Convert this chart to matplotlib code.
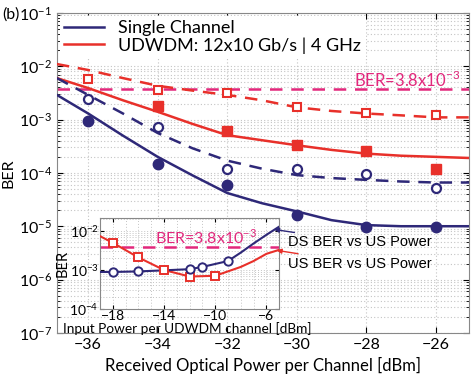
import numpy as np
import matplotlib.pyplot as plt
from matplotlib.ticker import LogLocator, NullFormatter, FixedLocator

plt.rcParams['font.family'] = ['Lato', 'DejaVu Sans']
plt.rcParams['mathtext.fontset'] = 'custom'
plt.rcParams['mathtext.rm'] = 'Lato'

navy = '#2e2878'
red = '#e8302a'
magenta = '#e2287c'
grid_col = '#c4c4c4'

# main plot: measured points
x_pts = [-36, -34, -32, -30, -28, -26]
single_solid_pts = [9.3e-4, 1.5e-4, 5.9e-5, 1.6e-5, 9.8e-6, 9.8e-6]
single_dashed_pts = [2.4e-3, 7.3e-4, 1.2e-4, 1.2e-4, 9.5e-5, 5.2e-5]
udwdm_solid_x = [-34, -32, -30, -28, -26]
udwdm_solid_pts = [1.8e-3, 6.1e-4, 3.3e-4, 2.6e-4, 1.2e-4]
udwdm_dashed_pts = [5.8e-3, 3.6e-3, 3.2e-3, 1.7e-3, 1.3e-3, 1.2e-3]

# main plot: fitted curves
fit_x = [-36.9, -36, -35, -34, -33, -32, -31, -30, -29, -28, -27, -26, -25]
single_solid_fit = [2.9e-3, 1.3e-3, 5.0e-4, 2.0e-4, 9.0e-5, 4.2e-5, 2.7e-5, 1.9e-5,
                    1.3e-5, 1.05e-5, 1.0e-5, 1.0e-5, 1.0e-5]
single_dashed_fit = [6.0e-3, 2.9e-3, 1.3e-3, 5.6e-4, 2.9e-4, 1.7e-4, 1.2e-4, 9.1e-5,
                     8.0e-5, 7.4e-5, 6.9e-5, 6.6e-5, 6.6e-5]
udwdm_solid_fit = [6.0e-3, 3.9e-3, 2.3e-3, 1.4e-3, 8.3e-4, 5.1e-4, 4.1e-4, 3.3e-4,
                   2.7e-4, 2.3e-4, 2.1e-4, 2.0e-4, 1.9e-4]
udwdm_dashed_fit = [1.1e-2, 8.5e-3, 6.0e-3, 4.3e-3, 3.5e-3, 2.9e-3, 2.3e-3, 1.7e-3,
                    1.45e-3, 1.3e-3, 1.2e-3, 1.1e-3, 1.1e-3]
fec_limit = 3.8e-3

# inset
ds_x = [-18, -16, -12, -11, -9]
ds_ber = [8.9e-4, 9.2e-4, 1.05e-3, 1.2e-3, 1.7e-3]
ds_line_x = [-19, -18, -16, -14, -12, -11, -9, -8, -7, -6, -5]
ds_line = [8.9e-4, 8.9e-4, 9.2e-4, 9.8e-4, 1.05e-3, 1.2e-3, 1.7e-3, 2.8e-3, 4.8e-3, 8.0e-3, 1.3e-2]
us_x = [-18, -16, -14, -12, -10]
us_ber = [5.0e-3, 2.1e-3, 1.0e-3, 6.8e-4, 7.1e-4]
us_line_x = [-19, -18, -16, -14, -12, -10, -8, -7, -6, -5]
us_line = [7.4e-3, 5.0e-3, 2.1e-3, 1.0e-3, 6.8e-4, 7.1e-4, 1.2e-3, 1.7e-3, 2.6e-3, 3.3e-3]

fig = plt.figure(figsize=(4.74, 3.80), dpi=100)
ax = fig.add_axes([0.120, 0.124, 0.869, 0.842])

dash = (0, (5, 3.5))
ax.axhline(fec_limit, color=magenta, lw=1.8, ls=dash, zorder=2)
ax.plot(fit_x, udwdm_dashed_fit, color=red, lw=1.8, ls=dash, zorder=3)
ax.plot(fit_x, udwdm_solid_fit, color=red, lw=1.8, zorder=3)
ax.plot(fit_x, single_dashed_fit, color=navy, lw=1.8, ls=dash, zorder=3)
ax.plot(fit_x, single_solid_fit, color=navy, lw=1.8, zorder=3)
ax.plot(x_pts, udwdm_dashed_pts, 's', mfc='white', mec=red, mew=1.5, ms=6, zorder=4)
ax.plot(udwdm_solid_x, udwdm_solid_pts, 's', color=red, ms=6.5, zorder=4)
ax.plot(x_pts, single_dashed_pts, 'o', mfc='white', mec=navy, mew=1.6, ms=6.5, zorder=4)
ax.plot(x_pts, single_solid_pts, 'o', color=navy, ms=7.5, zorder=4)

ax.set_yscale('log')
ax.set_xlim(-36.9, -25.05)
ax.set_ylim(1e-7, 1e-1)
ax.set_xticks([-36, -34, -32, -30, -28, -26])
ax.yaxis.set_major_locator(LogLocator(base=10, numticks=10))
ax.yaxis.set_minor_locator(LogLocator(base=10, subs=np.arange(2, 10), numticks=10))
ax.yaxis.set_minor_formatter(NullFormatter())
ax.tick_params(which='both', direction='in', top=True, right=True, labelsize=11.5)
ax.tick_params(which='major', length=4)
ax.tick_params(which='minor', length=2)
ax.grid(True, which='major', axis='both', color=grid_col, ls=(0, (1, 2)), lw=0.8)
ax.grid(True, which='minor', axis='y', color=grid_col, ls=(0, (1, 2)), lw=0.8)
ax.set_axisbelow(True)
for s in ax.spines.values():
    s.set_color('#888888')
ax.set_xlabel('Received Optical Power per Channel [dBm]', fontsize=12, labelpad=4)
ax.set_ylabel('BER', fontsize=11.5, labelpad=2)

h1, = ax.plot([], [], color=navy, lw=1.8, label='Single Channel')
h2, = ax.plot([], [], color=red, lw=1.8, label='UDWDM: 12x10 Gb/s | 4 GHz')
leg = ax.legend(handles=[h1, h2], loc='upper left', fontsize=13, frameon=True,
                fancybox=False, framealpha=1, edgecolor='none', facecolor='white',
                handlelength=2.2, borderaxespad=0.15, labelspacing=0.05, borderpad=0.25)
leg.set_zorder(5)

ax.text(-25.3, 5.6e-3, r'BER=3.8x10$^{-3}$', color=magenta, fontsize=12,
        ha='right', va='center', zorder=5)

fig.text(0.005, 0.963, '(b)', fontsize=11.5, va='center', ha='left')

# inset
ins = fig.add_axes([0.211, 0.187, 0.378, 0.239])
ins.axhline(fec_limit, color=magenta, lw=1.8, ls=dash, zorder=2)
ins.plot(us_line_x, us_line, color=red, lw=1.5, zorder=3)
ins.plot(us_x, us_ber, 's', mfc='white', mec=red, mew=1.4, ms=6, zorder=4)
ins.plot(ds_line_x, ds_line, color=navy, lw=1.5, zorder=3)
ins.plot(ds_x, ds_ber, 'o', mfc='white', mec=navy, mew=1.4, ms=6, zorder=4)
ins.set_yscale('log')
ins.set_xlim(-19, -5)
ins.set_ylim(1e-4, 2.15e-2)
ins.set_xticks([-18, -14, -10, -6])
ins.xaxis.set_minor_locator(FixedLocator(np.arange(-19, -4, 1)))
ins.set_yticks([1e-4, 1e-3, 1e-2])
ins.yaxis.set_minor_locator(LogLocator(base=10, subs=np.arange(2, 10), numticks=10))
ins.yaxis.set_minor_formatter(NullFormatter())
ins.tick_params(which='both', direction='in', top=True, right=True, labelsize=10, pad=1)
ins.tick_params(which='major', length=3)
ins.tick_params(which='minor', length=0)
ins.grid(True, which='both', color=grid_col, ls=(0, (1, 2)), lw=0.7)
ins.set_axisbelow(True)
for s in ins.spines.values():
    s.set_color('#888888')
ins.set_ylabel('BER', fontsize=10.5, labelpad=0)
fig.text(187 / 474, 1 - 329 / 380, 'Input Power per UDWDM channel [dBm]', fontsize=9.8,
         ha='center', va='center')
ins.text(-14.7, 6.8e-3, r'BER=3.8x10$^{-3}$', color=magenta, fontsize=11.5,
         ha='left', va='center', zorder=5)

ins.annotate('DS BER vs US Power', xy=(-5.4, 1.1e-2), xytext=(-30.25, 5.0e-6),
             textcoords=ax.transData, fontsize=10.5, family='Liberation Sans',
             va='center', ha='left', annotation_clip=False,
             arrowprops=dict(arrowstyle='-|>', color=navy, lw=1.0, mutation_scale=7,
                             shrinkA=0, shrinkB=0))
ins.annotate('US BER vs US Power', xy=(-5.2, 3.2e-3), xytext=(-30.25, 2.0e-6),
             textcoords=ax.transData, fontsize=10.5, family='Liberation Sans',
             va='center', ha='left', annotation_clip=False,
             arrowprops=dict(arrowstyle='-|>', color=red, lw=1.0, mutation_scale=7,
                             shrinkA=0, shrinkB=0))

fig.savefig('out.png', dpi=100)
